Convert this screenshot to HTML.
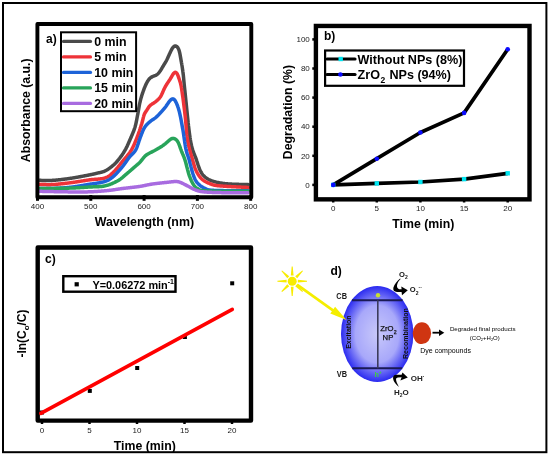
<!DOCTYPE html>
<html><head><meta charset="utf-8"><style>
html,body{margin:0;padding:0;background:#fff;}
body{width:550px;height:457px;overflow:hidden;font-family:"Liberation Sans", sans-serif;}
svg{display:block;will-change:transform;}
</style></head><body>
<svg width="550" height="457" viewBox="0 0 550 457" font-family='"Liberation Sans", sans-serif'><rect x="3" y="3" width="543.4" height="449.2" fill="none" stroke="#000" stroke-width="2"/>
<g fill="none" stroke-width="3.5" stroke-linejoin="round" stroke-linecap="round">
<path d="M39.01,180.31 L39.30,180.32 L39.66,180.33 L40.08,180.34 L40.53,180.36 L41.01,180.37 L41.50,180.39 L42.00,180.41 L42.50,180.42 L43.00,180.44 L43.50,180.45 L44.00,180.47 L44.50,180.48 L45.00,180.49 L45.50,180.50 L46.00,180.50 L46.50,180.51 L47.00,180.51 L47.50,180.51 L48.00,180.51 L48.50,180.51 L49.00,180.50 L49.50,180.49 L50.00,180.48 L50.50,180.46 L51.00,180.44 L51.49,180.42 L51.99,180.39 L52.49,180.36 L52.99,180.33 L53.49,180.29 L53.99,180.26 L54.49,180.22 L54.99,180.18 L55.48,180.14 L55.98,180.09 L56.48,180.05 L56.98,180.00 L57.48,179.95 L57.97,179.91 L58.47,179.86 L58.97,179.80 L59.47,179.75 L59.96,179.70 L60.46,179.64 L60.96,179.59 L61.45,179.53 L61.95,179.47 L62.45,179.41 L62.94,179.35 L63.44,179.29 L63.93,179.23 L64.43,179.17 L64.93,179.10 L65.42,179.04 L65.92,178.97 L66.41,178.90 L66.91,178.84 L67.40,178.77 L67.90,178.70 L68.39,178.63 L68.89,178.56 L69.38,178.49 L69.88,178.41 L70.37,178.34 L70.87,178.26 L71.36,178.19 L71.86,178.11 L72.35,178.03 L72.84,177.95 L73.34,177.87 L73.83,177.79 L74.32,177.71 L74.82,177.62 L75.31,177.54 L75.80,177.45 L76.29,177.37 L76.79,177.28 L77.28,177.19 L77.77,177.10 L78.26,177.02 L78.76,176.93 L79.25,176.84 L79.74,176.75 L80.23,176.66 L80.72,176.57 L81.21,176.48 L81.71,176.38 L82.20,176.29 L82.69,176.20 L83.18,176.11 L83.67,176.01 L84.16,175.92 L84.65,175.83 L85.14,175.73 L85.64,175.64 L86.13,175.55 L86.62,175.45 L87.11,175.36 L87.60,175.26 L88.09,175.17 L88.58,175.07 L89.07,174.98 L89.56,174.88 L90.05,174.79 L90.54,174.69 L91.04,174.59 L91.53,174.50 L92.02,174.39 L92.50,174.29 L92.99,174.19 L93.48,174.08 L93.97,173.96 L94.45,173.85 L94.94,173.73 L95.42,173.61 L95.91,173.49 L96.39,173.37 L96.88,173.25 L97.37,173.13 L97.85,173.02 L98.34,172.91 L98.83,172.81 L99.32,172.70 L99.81,172.60 L100.30,172.49 L100.78,172.38 L101.27,172.26 L101.75,172.14 L102.23,172.00 L102.71,171.86 L103.18,171.70 L103.65,171.53 L104.12,171.34 L104.57,171.15 L105.02,170.94 L105.47,170.71 L105.91,170.48 L106.35,170.24 L106.78,169.99 L107.21,169.73 L107.63,169.46 L108.05,169.19 L108.47,168.92 L108.88,168.63 L109.29,168.35 L109.70,168.06 L110.10,167.77 L110.51,167.47 L110.90,167.17 L111.30,166.86 L111.69,166.55 L112.08,166.24 L112.47,165.92 L112.85,165.60 L113.23,165.28 L113.61,164.95 L113.98,164.62 L114.35,164.28 L114.71,163.93 L115.07,163.58 L115.42,163.23 L115.76,162.87 L116.11,162.50 L116.44,162.13 L116.77,161.76 L117.10,161.38 L117.42,161.00 L117.74,160.62 L118.06,160.23 L118.37,159.84 L118.69,159.45 L119.00,159.06 L119.30,158.66 L119.61,158.27 L119.91,157.87 L120.22,157.47 L120.52,157.07 L120.82,156.67 L121.11,156.27 L121.41,155.87 L121.70,155.46 L121.99,155.05 L122.27,154.64 L122.56,154.23 L122.84,153.82 L123.11,153.40 L123.39,152.98 L123.66,152.56 L123.92,152.14 L124.18,151.71 L124.44,151.28 L124.69,150.85 L124.94,150.42 L125.19,149.98 L125.43,149.55 L125.67,149.11 L125.90,148.66 L126.13,148.22 L126.36,147.77 L126.58,147.33 L126.80,146.88 L127.02,146.43 L127.23,145.97 L127.44,145.52 L127.65,145.06 L127.85,144.61 L128.05,144.15 L128.26,143.69 L128.46,143.24 L128.66,142.78 L128.86,142.32 L129.06,141.86 L129.25,141.40 L129.45,140.94 L129.65,140.48 L129.85,140.03 L130.05,139.57 L130.25,139.11 L130.45,138.65 L130.65,138.19 L130.85,137.73 L131.05,137.28 L131.25,136.82 L131.45,136.36 L131.65,135.90 L131.84,135.44 L132.04,134.98 L132.23,134.52 L132.43,134.06 L132.62,133.60 L132.81,133.13 L133.00,132.67 L133.18,132.21 L133.37,131.74 L133.55,131.28 L133.73,130.81 L133.90,130.34 L134.08,129.87 L134.25,129.40 L134.41,128.93 L134.57,128.46 L134.73,127.98 L134.88,127.51 L135.02,127.03 L135.17,126.55 L135.30,126.07 L135.43,125.59 L135.56,125.10 L135.68,124.62 L135.80,124.13 L135.91,123.64 L136.02,123.16 L136.13,122.67 L136.23,122.18 L136.33,121.69 L136.43,121.20 L136.53,120.71 L136.62,120.22 L136.71,119.73 L136.80,119.23 L136.89,118.74 L136.98,118.25 L137.08,117.76 L137.17,117.27 L137.26,116.78 L137.35,116.29 L137.45,115.79 L137.54,115.30 L137.64,114.81 L137.73,114.32 L137.82,113.83 L137.91,113.34 L138.01,112.85 L138.09,112.35 L138.18,111.86 L138.27,111.37 L138.36,110.88 L138.44,110.39 L138.53,109.89 L138.61,109.40 L138.70,108.91 L138.78,108.41 L138.87,107.92 L138.96,107.43 L139.04,106.94 L139.13,106.45 L139.22,105.95 L139.31,105.46 L139.41,104.97 L139.50,104.48 L139.60,103.99 L139.70,103.50 L139.80,103.01 L139.91,102.52 L140.02,102.03 L140.13,101.55 L140.25,101.06 L140.37,100.58 L140.49,100.09 L140.62,99.61 L140.75,99.12 L140.88,98.64 L141.01,98.16 L141.15,97.68 L141.29,97.20 L141.43,96.72 L141.58,96.24 L141.72,95.76 L141.87,95.29 L142.02,94.81 L142.18,94.33 L142.33,93.86 L142.49,93.39 L142.65,92.91 L142.81,92.44 L142.97,91.97 L143.14,91.49 L143.30,91.02 L143.47,90.55 L143.64,90.08 L143.81,89.61 L143.99,89.14 L144.17,88.67 L144.35,88.21 L144.53,87.74 L144.71,87.28 L144.90,86.82 L145.10,86.35 L145.29,85.90 L145.49,85.44 L145.70,84.98 L145.91,84.53 L146.12,84.08 L146.34,83.63 L146.56,83.18 L146.79,82.73 L147.02,82.29 L147.27,81.86 L147.52,81.42 L147.77,81.00 L148.04,80.58 L148.32,80.16 L148.61,79.76 L148.92,79.37 L149.24,78.99 L149.58,78.62 L149.93,78.28 L150.30,77.95 L150.69,77.65 L151.10,77.37 L151.53,77.12 L151.96,76.88 L152.41,76.66 L152.86,76.46 L153.32,76.26 L153.78,76.07 L154.25,75.89 L154.71,75.71 L155.17,75.52 L155.63,75.32 L156.07,75.11 L156.50,74.87 L156.91,74.60 L157.30,74.30 L157.67,73.98 L158.03,73.63 L158.37,73.27 L158.70,72.90 L159.02,72.52 L159.33,72.13 L159.64,71.73 L159.93,71.33 L160.22,70.92 L160.50,70.51 L160.77,70.09 L161.04,69.67 L161.30,69.24 L161.56,68.81 L161.81,68.38 L162.06,67.95 L162.31,67.51 L162.56,67.08 L162.81,66.65 L163.07,66.22 L163.32,65.79 L163.58,65.36 L163.84,64.94 L164.10,64.51 L164.37,64.08 L164.63,63.66 L164.89,63.23 L165.15,62.81 L165.41,62.38 L165.67,61.95 L165.92,61.52 L166.16,61.08 L166.40,60.64 L166.63,60.20 L166.85,59.75 L167.08,59.30 L167.29,58.85 L167.50,58.40 L167.71,57.95 L167.92,57.49 L168.12,57.04 L168.33,56.58 L168.53,56.12 L168.74,55.67 L168.95,55.21 L169.15,54.76 L169.36,54.30 L169.57,53.85 L169.78,53.39 L169.99,52.94 L170.20,52.49 L170.41,52.03 L170.62,51.58 L170.83,51.13 L171.05,50.68 L171.27,50.23 L171.50,49.78 L171.74,49.35 L171.99,48.91 L172.25,48.49 L172.53,48.08 L172.82,47.68 L173.13,47.30 L173.46,46.94 L173.81,46.62 L174.19,46.35 L174.59,46.14 L175.00,46.02 L175.42,45.99 L175.85,46.05 L176.26,46.20 L176.65,46.42 L177.01,46.72 L177.34,47.06 L177.64,47.43 L177.92,47.84 L178.16,48.26 L178.39,48.71 L178.59,49.16 L178.78,49.62 L178.95,50.09 L179.10,50.56 L179.24,51.04 L179.37,51.52 L179.49,52.01 L179.61,52.49 L179.72,52.98 L179.82,53.47 L179.92,53.96 L180.02,54.45 L180.11,54.94 L180.20,55.43 L180.29,55.92 L180.38,56.42 L180.47,56.91 L180.56,57.40 L180.64,57.89 L180.73,58.39 L180.81,58.88 L180.90,59.37 L180.99,59.86 L181.08,60.36 L181.16,60.85 L181.25,61.34 L181.34,61.83 L181.42,62.33 L181.51,62.82 L181.60,63.31 L181.68,63.80 L181.76,64.30 L181.85,64.79 L181.93,65.28 L182.01,65.78 L182.09,66.27 L182.17,66.76 L182.25,67.26 L182.32,67.75 L182.40,68.25 L182.47,68.74 L182.54,69.23 L182.62,69.73 L182.69,70.22 L182.76,70.72 L182.82,71.22 L182.89,71.71 L182.96,72.21 L183.02,72.70 L183.08,73.20 L183.14,73.69 L183.20,74.19 L183.26,74.69 L183.32,75.18 L183.37,75.68 L183.42,76.18 L183.47,76.68 L183.52,77.17 L183.57,77.67 L183.62,78.17 L183.66,78.67 L183.71,79.16 L183.76,79.66 L183.80,80.16 L183.85,80.66 L183.89,81.16 L183.94,81.65 L183.99,82.15 L184.04,82.65 L184.09,83.15 L184.13,83.64 L184.18,84.14 L184.23,84.64 L184.29,85.14 L184.34,85.63 L184.39,86.13 L184.44,86.63 L184.49,87.13 L184.54,87.62 L184.60,88.12 L184.65,88.62 L184.70,89.12 L184.76,89.61 L184.81,90.11 L184.86,90.61 L184.92,91.10 L184.97,91.60 L185.02,92.10 L185.07,92.60 L185.13,93.09 L185.18,93.59 L185.23,94.09 L185.28,94.58 L185.33,95.08 L185.38,95.58 L185.43,96.08 L185.48,96.57 L185.53,97.07 L185.58,97.57 L185.63,98.07 L185.68,98.56 L185.73,99.06 L185.78,99.56 L185.83,100.06 L185.88,100.55 L185.93,101.05 L185.98,101.55 L186.03,102.05 L186.08,102.54 L186.13,103.04 L186.18,103.54 L186.23,104.04 L186.28,104.53 L186.33,105.03 L186.38,105.53 L186.43,106.03 L186.48,106.52 L186.53,107.02 L186.58,107.52 L186.63,108.02 L186.68,108.51 L186.73,109.01 L186.78,109.51 L186.83,110.01 L186.88,110.50 L186.94,111.00 L186.99,111.50 L187.04,112.00 L187.09,112.49 L187.14,112.99 L187.19,113.49 L187.24,113.99 L187.29,114.48 L187.35,114.98 L187.40,115.48 L187.45,115.98 L187.50,116.47 L187.55,116.97 L187.61,117.47 L187.66,117.96 L187.71,118.46 L187.77,118.96 L187.82,119.46 L187.87,119.95 L187.93,120.45 L187.98,120.95 L188.03,121.44 L188.09,121.94 L188.14,122.44 L188.20,122.93 L188.25,123.43 L188.31,123.93 L188.37,124.43 L188.42,124.92 L188.48,125.42 L188.53,125.92 L188.59,126.41 L188.65,126.91 L188.71,127.41 L188.77,127.90 L188.82,128.40 L188.88,128.90 L188.94,129.39 L189.00,129.89 L189.06,130.38 L189.13,130.88 L189.19,131.38 L189.25,131.87 L189.31,132.37 L189.38,132.87 L189.44,133.36 L189.51,133.86 L189.57,134.35 L189.64,134.85 L189.71,135.34 L189.78,135.84 L189.85,136.33 L189.92,136.83 L189.99,137.32 L190.06,137.82 L190.14,138.31 L190.22,138.81 L190.29,139.30 L190.38,139.79 L190.46,140.29 L190.54,140.78 L190.63,141.27 L190.72,141.76 L190.81,142.25 L190.91,142.74 L191.01,143.24 L191.11,143.72 L191.21,144.21 L191.32,144.70 L191.43,145.19 L191.54,145.68 L191.66,146.16 L191.78,146.65 L191.90,147.13 L192.03,147.62 L192.16,148.10 L192.30,148.58 L192.44,149.06 L192.59,149.54 L192.73,150.01 L192.89,150.49 L193.05,150.96 L193.21,151.44 L193.37,151.91 L193.54,152.38 L193.72,152.85 L193.90,153.31 L194.08,153.78 L194.26,154.24 L194.45,154.71 L194.63,155.17 L194.82,155.64 L195.01,156.10 L195.20,156.56 L195.38,157.03 L195.57,157.49 L195.75,157.96 L195.92,158.42 L196.10,158.89 L196.27,159.36 L196.43,159.84 L196.59,160.31 L196.75,160.78 L196.90,161.26 L197.06,161.73 L197.21,162.21 L197.37,162.69 L197.52,163.16 L197.67,163.64 L197.83,164.11 L197.98,164.59 L198.14,165.06 L198.30,165.54 L198.46,166.01 L198.62,166.48 L198.79,166.96 L198.96,167.43 L199.13,167.89 L199.31,168.36 L199.50,168.83 L199.69,169.29 L199.89,169.74 L200.09,170.20 L200.31,170.65 L200.53,171.10 L200.76,171.54 L201.00,171.98 L201.25,172.41 L201.50,172.84 L201.77,173.26 L202.05,173.68 L202.33,174.08 L202.63,174.48 L202.94,174.87 L203.27,175.25 L203.60,175.62 L203.95,175.98 L204.30,176.33 L204.67,176.67 L205.05,177.00 L205.43,177.31 L205.82,177.62 L206.23,177.92 L206.63,178.20 L207.05,178.48 L207.47,178.75 L207.90,179.00 L208.33,179.25 L208.77,179.49 L209.22,179.71 L209.66,179.93 L210.12,180.14 L210.58,180.34 L211.04,180.53 L211.50,180.71 L211.97,180.88 L212.44,181.05 L212.92,181.20 L213.40,181.35 L213.87,181.50 L214.35,181.64 L214.83,181.77 L215.32,181.90 L215.80,182.03 L216.29,182.14 L216.77,182.26 L217.26,182.37 L217.75,182.48 L218.24,182.58 L218.73,182.67 L219.22,182.77 L219.71,182.86 L220.21,182.94 L220.70,183.02 L221.19,183.10 L221.69,183.18 L222.18,183.25 L222.68,183.32 L223.17,183.38 L223.67,183.45 L224.16,183.51 L224.66,183.57 L225.16,183.62 L225.65,183.67 L226.15,183.72 L226.65,183.77 L227.15,183.82 L227.65,183.86 L228.14,183.90 L228.64,183.94 L229.14,183.98 L229.64,184.01 L230.14,184.04 L230.64,184.07 L231.14,184.10 L231.64,184.12 L232.14,184.15 L232.64,184.17 L233.14,184.19 L233.63,184.21 L234.13,184.23 L234.63,184.25 L235.13,184.26 L235.63,184.28 L236.13,184.30 L236.63,184.31 L237.13,184.33 L237.63,184.34 L238.13,184.35 L238.63,184.37 L239.13,184.38 L239.63,184.39 L240.13,184.40 L240.63,184.42 L241.13,184.43 L241.63,184.44 L242.13,184.45 L242.63,184.46 L243.13,184.47 L243.63,184.48 L244.13,184.49 L244.63,184.50 L245.13,184.51 L245.63,184.52 L246.12,184.53 L246.60,184.54 L247.05,184.55 L247.47,184.56 L247.83,184.57 L248.12,184.58" stroke="#4a4a4a"/>
<path d="M39.01,184.32 L39.30,184.33 L39.66,184.35 L40.08,184.37 L40.53,184.39 L41.01,184.41 L41.50,184.44 L42.00,184.46 L42.50,184.49 L43.00,184.51 L43.49,184.53 L43.99,184.55 L44.49,184.57 L44.99,184.59 L45.49,184.61 L45.99,184.62 L46.49,184.63 L46.99,184.64 L47.49,184.65 L47.99,184.66 L48.49,184.66 L48.99,184.66 L49.49,184.66 L49.99,184.65 L50.49,184.64 L50.99,184.63 L51.49,184.61 L51.99,184.59 L52.49,184.57 L52.99,184.54 L53.49,184.51 L53.99,184.48 L54.49,184.44 L54.98,184.41 L55.48,184.37 L55.98,184.33 L56.48,184.29 L56.98,184.25 L57.48,184.21 L57.97,184.16 L58.47,184.11 L58.97,184.07 L59.47,184.02 L59.97,183.97 L60.46,183.92 L60.96,183.86 L61.46,183.81 L61.95,183.76 L62.45,183.70 L62.95,183.65 L63.44,183.59 L63.94,183.53 L64.44,183.48 L64.93,183.42 L65.43,183.36 L65.93,183.30 L66.42,183.24 L66.92,183.18 L67.42,183.12 L67.91,183.06 L68.41,183.00 L68.91,182.94 L69.40,182.87 L69.90,182.81 L70.39,182.75 L70.89,182.68 L71.38,182.61 L71.88,182.55 L72.38,182.48 L72.87,182.41 L73.37,182.34 L73.86,182.27 L74.36,182.20 L74.85,182.12 L75.34,182.05 L75.84,181.97 L76.33,181.90 L76.83,181.82 L77.32,181.75 L77.82,181.67 L78.31,181.59 L78.80,181.52 L79.30,181.44 L79.79,181.36 L80.29,181.28 L80.78,181.21 L81.27,181.13 L81.77,181.05 L82.26,180.97 L82.75,180.89 L83.25,180.82 L83.74,180.74 L84.24,180.66 L84.73,180.58 L85.22,180.51 L85.72,180.43 L86.21,180.36 L86.71,180.28 L87.20,180.21 L87.70,180.13 L88.19,180.06 L88.69,179.99 L89.18,179.92 L89.68,179.85 L90.17,179.79 L90.67,179.73 L91.17,179.67 L91.66,179.61 L92.16,179.56 L92.66,179.51 L93.15,179.46 L93.65,179.42 L94.15,179.38 L94.65,179.34 L95.15,179.31 L95.65,179.27 L96.15,179.24 L96.64,179.20 L97.14,179.16 L97.64,179.13 L98.14,179.09 L98.64,179.05 L99.14,179.01 L99.63,178.96 L100.13,178.91 L100.63,178.85 L101.12,178.79 L101.62,178.72 L102.11,178.64 L102.60,178.56 L103.09,178.46 L103.58,178.35 L104.06,178.22 L104.54,178.09 L105.02,177.94 L105.49,177.77 L105.95,177.60 L106.41,177.40 L106.87,177.20 L107.31,176.98 L107.75,176.74 L108.18,176.49 L108.61,176.23 L109.02,175.95 L109.43,175.67 L109.83,175.37 L110.22,175.06 L110.61,174.74 L110.99,174.42 L111.36,174.09 L111.73,173.75 L112.10,173.41 L112.46,173.07 L112.83,172.73 L113.19,172.38 L113.55,172.03 L113.90,171.68 L114.25,171.33 L114.60,170.97 L114.95,170.61 L115.29,170.24 L115.63,169.87 L115.96,169.50 L116.29,169.12 L116.62,168.75 L116.94,168.36 L117.26,167.98 L117.58,167.60 L117.89,167.21 L118.21,166.82 L118.52,166.43 L118.83,166.04 L119.14,165.65 L119.45,165.26 L119.76,164.86 L120.07,164.47 L120.38,164.08 L120.69,163.68 L121.00,163.29 L121.31,162.90 L121.62,162.51 L121.93,162.12 L122.25,161.73 L122.56,161.34 L122.88,160.95 L123.19,160.56 L123.51,160.18 L123.83,159.80 L124.16,159.41 L124.48,159.03 L124.80,158.65 L125.13,158.27 L125.45,157.89 L125.77,157.51 L126.09,157.12 L126.42,156.74 L126.74,156.36 L127.05,155.97 L127.37,155.58 L127.69,155.20 L128.00,154.80 L128.31,154.41 L128.61,154.02 L128.92,153.62 L129.21,153.22 L129.51,152.82 L129.80,152.41 L130.09,152.00 L130.37,151.58 L130.64,151.17 L130.91,150.75 L131.18,150.32 L131.43,149.89 L131.69,149.46 L131.93,149.03 L132.17,148.59 L132.41,148.15 L132.64,147.71 L132.87,147.26 L133.09,146.81 L133.31,146.36 L133.52,145.91 L133.73,145.46 L133.94,145.00 L134.14,144.55 L134.34,144.09 L134.54,143.63 L134.74,143.17 L134.93,142.71 L135.12,142.25 L135.31,141.78 L135.50,141.32 L135.68,140.86 L135.87,140.39 L136.05,139.93 L136.23,139.46 L136.42,139.00 L136.60,138.53 L136.78,138.06 L136.96,137.60 L137.14,137.13 L137.32,136.66 L137.50,136.20 L137.68,135.73 L137.85,135.26 L138.03,134.79 L138.20,134.33 L138.37,133.86 L138.54,133.39 L138.71,132.92 L138.88,132.44 L139.04,131.97 L139.20,131.50 L139.37,131.03 L139.53,130.55 L139.68,130.08 L139.84,129.60 L140.00,129.13 L140.15,128.65 L140.31,128.18 L140.46,127.70 L140.61,127.22 L140.76,126.75 L140.91,126.27 L141.06,125.79 L141.21,125.32 L141.36,124.84 L141.51,124.36 L141.65,123.88 L141.80,123.41 L141.94,122.93 L142.08,122.45 L142.22,121.96 L142.35,121.48 L142.48,121.00 L142.60,120.52 L142.72,120.03 L142.84,119.55 L142.96,119.06 L143.08,118.57 L143.19,118.09 L143.31,117.60 L143.44,117.12 L143.56,116.63 L143.70,116.15 L143.85,115.68 L144.00,115.20 L144.17,114.74 L144.36,114.27 L144.56,113.82 L144.78,113.37 L145.02,112.93 L145.27,112.50 L145.53,112.08 L145.80,111.66 L146.08,111.25 L146.36,110.84 L146.64,110.42 L146.92,110.01 L147.19,109.59 L147.46,109.16 L147.72,108.74 L147.98,108.31 L148.24,107.89 L148.51,107.47 L148.79,107.06 L149.09,106.66 L149.40,106.28 L149.74,105.91 L150.09,105.57 L150.46,105.24 L150.85,104.93 L151.25,104.64 L151.66,104.36 L152.08,104.09 L152.51,103.82 L152.93,103.55 L153.35,103.29 L153.77,103.01 L154.18,102.73 L154.59,102.44 L154.99,102.15 L155.39,101.84 L155.78,101.54 L156.17,101.22 L156.56,100.91 L156.94,100.58 L157.32,100.26 L157.69,99.93 L158.05,99.58 L158.41,99.24 L158.76,98.88 L159.09,98.51 L159.41,98.13 L159.73,97.74 L160.02,97.34 L160.31,96.93 L160.58,96.51 L160.84,96.09 L161.09,95.65 L161.32,95.21 L161.55,94.77 L161.77,94.32 L161.98,93.87 L162.19,93.41 L162.39,92.96 L162.59,92.50 L162.79,92.04 L162.99,91.58 L163.19,91.12 L163.39,90.66 L163.59,90.21 L163.79,89.75 L164.00,89.29 L164.21,88.84 L164.42,88.39 L164.64,87.94 L164.87,87.50 L165.11,87.06 L165.35,86.62 L165.59,86.18 L165.84,85.75 L166.10,85.32 L166.36,84.90 L166.62,84.47 L166.89,84.05 L167.16,83.63 L167.43,83.21 L167.71,82.79 L167.99,82.38 L168.27,81.96 L168.54,81.55 L168.82,81.13 L169.10,80.72 L169.38,80.30 L169.65,79.88 L169.93,79.46 L170.19,79.04 L170.45,78.61 L170.71,78.18 L170.96,77.75 L171.21,77.32 L171.46,76.88 L171.70,76.45 L171.95,76.02 L172.20,75.58 L172.46,75.15 L172.72,74.73 L172.99,74.31 L173.27,73.90 L173.56,73.51 L173.87,73.15 L174.21,72.83 L174.56,72.58 L174.93,72.41 L175.31,72.34 L175.69,72.39 L176.05,72.55 L176.38,72.80 L176.68,73.12 L176.96,73.50 L177.20,73.92 L177.43,74.36 L177.63,74.81 L177.83,75.27 L178.01,75.73 L178.19,76.20 L178.36,76.67 L178.52,77.14 L178.69,77.61 L178.85,78.08 L179.01,78.56 L179.17,79.03 L179.33,79.50 L179.49,79.98 L179.65,80.45 L179.81,80.92 L179.96,81.40 L180.11,81.88 L180.25,82.36 L180.39,82.84 L180.52,83.32 L180.64,83.81 L180.75,84.29 L180.86,84.78 L180.96,85.27 L181.06,85.76 L181.16,86.25 L181.25,86.74 L181.34,87.23 L181.42,87.73 L181.51,88.22 L181.59,88.71 L181.67,89.21 L181.75,89.70 L181.83,90.19 L181.90,90.69 L181.98,91.18 L182.05,91.68 L182.13,92.17 L182.20,92.66 L182.27,93.16 L182.34,93.65 L182.41,94.15 L182.48,94.64 L182.55,95.14 L182.62,95.64 L182.69,96.13 L182.76,96.63 L182.82,97.12 L182.89,97.62 L182.96,98.11 L183.02,98.61 L183.09,99.10 L183.15,99.60 L183.22,100.10 L183.28,100.59 L183.35,101.09 L183.41,101.58 L183.48,102.08 L183.54,102.57 L183.60,103.07 L183.66,103.57 L183.73,104.06 L183.79,104.56 L183.85,105.05 L183.91,105.55 L183.98,106.05 L184.04,106.54 L184.10,107.04 L184.16,107.54 L184.22,108.03 L184.28,108.53 L184.34,109.02 L184.40,109.52 L184.46,110.02 L184.52,110.51 L184.58,111.01 L184.64,111.51 L184.70,112.00 L184.76,112.50 L184.82,113.00 L184.87,113.49 L184.93,113.99 L184.99,114.49 L185.05,114.98 L185.10,115.48 L185.16,115.98 L185.22,116.47 L185.27,116.97 L185.32,117.47 L185.37,117.97 L185.42,118.46 L185.47,118.96 L185.52,119.46 L185.57,119.96 L185.61,120.45 L185.65,120.95 L185.70,121.45 L185.74,121.95 L185.78,122.45 L185.82,122.95 L185.86,123.44 L185.90,123.94 L185.94,124.44 L185.97,124.94 L186.01,125.44 L186.05,125.94 L186.09,126.44 L186.12,126.93 L186.16,127.43 L186.20,127.93 L186.24,128.43 L186.28,128.93 L186.31,129.43 L186.35,129.92 L186.39,130.42 L186.44,130.92 L186.48,131.42 L186.52,131.92 L186.57,132.42 L186.61,132.91 L186.66,133.41 L186.71,133.91 L186.76,134.41 L186.82,134.90 L186.87,135.40 L186.93,135.90 L186.99,136.39 L187.05,136.89 L187.12,137.38 L187.19,137.88 L187.26,138.37 L187.33,138.87 L187.41,139.36 L187.49,139.86 L187.57,140.35 L187.66,140.84 L187.75,141.33 L187.84,141.82 L187.94,142.32 L188.04,142.81 L188.14,143.29 L188.24,143.78 L188.35,144.27 L188.46,144.76 L188.57,145.25 L188.68,145.74 L188.79,146.22 L188.91,146.71 L189.03,147.19 L189.15,147.68 L189.27,148.16 L189.40,148.65 L189.52,149.13 L189.65,149.62 L189.78,150.10 L189.91,150.58 L190.04,151.06 L190.17,151.55 L190.30,152.03 L190.44,152.51 L190.57,152.99 L190.71,153.47 L190.85,153.95 L190.98,154.43 L191.12,154.91 L191.26,155.39 L191.40,155.87 L191.54,156.35 L191.68,156.84 L191.82,157.32 L191.96,157.80 L192.10,158.28 L192.24,158.76 L192.38,159.24 L192.52,159.72 L192.65,160.20 L192.79,160.68 L192.93,161.16 L193.07,161.64 L193.21,162.12 L193.34,162.60 L193.48,163.08 L193.62,163.56 L193.76,164.04 L193.91,164.52 L194.05,165.00 L194.20,165.48 L194.35,165.95 L194.50,166.43 L194.66,166.90 L194.82,167.38 L194.99,167.85 L195.16,168.32 L195.34,168.78 L195.52,169.25 L195.71,169.71 L195.91,170.17 L196.11,170.62 L196.32,171.08 L196.54,171.53 L196.76,171.97 L196.99,172.42 L197.23,172.86 L197.47,173.30 L197.72,173.73 L197.97,174.16 L198.24,174.58 L198.51,175.00 L198.78,175.42 L199.07,175.83 L199.36,176.23 L199.67,176.63 L199.98,177.02 L200.30,177.40 L200.63,177.78 L200.96,178.14 L201.31,178.50 L201.67,178.85 L202.04,179.19 L202.41,179.52 L202.80,179.83 L203.19,180.14 L203.59,180.44 L204.00,180.72 L204.42,180.99 L204.84,181.26 L205.27,181.51 L205.70,181.76 L206.14,182.00 L206.59,182.23 L207.04,182.45 L207.49,182.66 L207.94,182.87 L208.40,183.07 L208.86,183.27 L209.32,183.46 L209.79,183.64 L210.25,183.82 L210.72,184.00 L211.19,184.17 L211.66,184.34 L212.13,184.51 L212.60,184.67 L213.08,184.81 L213.56,184.95 L214.04,185.08 L214.53,185.19 L215.02,185.28 L215.51,185.37 L216.00,185.45 L216.50,185.52 L216.99,185.58 L217.49,185.64 L217.99,185.70 L218.48,185.75 L218.98,185.80 L219.48,185.85 L219.98,185.89 L220.47,185.93 L220.97,185.98 L221.47,186.02 L221.97,186.05 L222.47,186.09 L222.97,186.13 L223.46,186.16 L223.96,186.19 L224.46,186.23 L224.96,186.26 L225.46,186.29 L225.96,186.32 L226.46,186.35 L226.96,186.38 L227.46,186.41 L227.96,186.44 L228.46,186.47 L228.95,186.50 L229.45,186.52 L229.95,186.55 L230.45,186.58 L230.95,186.60 L231.45,186.63 L231.95,186.66 L232.45,186.68 L232.95,186.71 L233.45,186.74 L233.95,186.76 L234.45,186.79 L234.95,186.81 L235.45,186.84 L235.94,186.86 L236.44,186.89 L236.94,186.91 L237.44,186.94 L237.94,186.96 L238.44,186.98 L238.94,187.01 L239.44,187.03 L239.94,187.06 L240.44,187.08 L240.94,187.11 L241.44,187.13 L241.94,187.15 L242.44,187.18 L242.94,187.20 L243.44,187.22 L243.94,187.25 L244.43,187.27 L244.93,187.30 L245.43,187.32 L245.93,187.35 L246.42,187.37 L246.90,187.39 L247.35,187.42 L247.77,187.44 L248.13,187.46 L248.42,187.47" stroke="#ee3338"/>
<path d="M39.01,188.60 L39.30,188.60 L39.66,188.60 L40.08,188.60 L40.53,188.61 L41.01,188.61 L41.50,188.61 L42.00,188.61 L42.50,188.62 L43.00,188.62 L43.50,188.62 L44.00,188.62 L44.50,188.62 L45.00,188.62 L45.50,188.62 L46.00,188.62 L46.50,188.62 L47.00,188.61 L47.50,188.61 L48.00,188.60 L48.50,188.59 L49.00,188.58 L49.50,188.57 L50.00,188.56 L50.50,188.55 L51.00,188.53 L51.50,188.51 L52.00,188.50 L52.50,188.48 L53.00,188.46 L53.50,188.44 L54.00,188.42 L54.50,188.39 L55.00,188.37 L55.50,188.35 L55.99,188.33 L56.49,188.30 L56.99,188.28 L57.49,188.25 L57.99,188.23 L58.49,188.20 L58.99,188.18 L59.49,188.15 L59.99,188.12 L60.49,188.09 L60.99,188.06 L61.49,188.03 L61.99,188.00 L62.48,187.96 L62.98,187.93 L63.48,187.89 L63.98,187.85 L64.48,187.82 L64.98,187.78 L65.48,187.74 L65.97,187.69 L66.47,187.65 L66.97,187.60 L67.47,187.56 L67.97,187.51 L68.46,187.46 L68.96,187.41 L69.46,187.35 L69.95,187.30 L70.45,187.24 L70.95,187.18 L71.44,187.12 L71.94,187.06 L72.44,187.00 L72.93,186.93 L73.43,186.86 L73.92,186.79 L74.42,186.73 L74.91,186.65 L75.41,186.58 L75.90,186.51 L76.40,186.44 L76.89,186.36 L77.38,186.29 L77.88,186.21 L78.37,186.13 L78.87,186.05 L79.36,185.97 L79.85,185.90 L80.35,185.82 L80.84,185.74 L81.33,185.65 L81.83,185.57 L82.32,185.49 L82.81,185.41 L83.31,185.33 L83.80,185.24 L84.29,185.16 L84.79,185.08 L85.28,185.00 L85.77,184.91 L86.27,184.83 L86.76,184.75 L87.25,184.66 L87.74,184.58 L88.24,184.50 L88.73,184.41 L89.22,184.33 L89.72,184.25 L90.21,184.17 L90.70,184.09 L91.20,184.01 L91.69,183.94 L92.19,183.86 L92.68,183.79 L93.18,183.71 L93.67,183.64 L94.17,183.57 L94.66,183.50 L95.16,183.43 L95.65,183.36 L96.15,183.29 L96.64,183.22 L97.14,183.14 L97.63,183.07 L98.12,182.99 L98.62,182.91 L99.11,182.83 L99.60,182.75 L100.10,182.66 L100.59,182.57 L101.08,182.48 L101.57,182.38 L102.06,182.27 L102.54,182.16 L103.03,182.04 L103.51,181.91 L103.99,181.78 L104.47,181.63 L104.95,181.48 L105.42,181.32 L105.89,181.15 L106.35,180.97 L106.81,180.77 L107.27,180.57 L107.72,180.36 L108.17,180.14 L108.61,179.90 L109.04,179.66 L109.47,179.40 L109.89,179.13 L110.30,178.85 L110.71,178.57 L111.12,178.27 L111.52,177.97 L111.91,177.67 L112.30,177.35 L112.69,177.04 L113.07,176.72 L113.45,176.39 L113.83,176.06 L114.20,175.73 L114.57,175.39 L114.94,175.05 L115.30,174.71 L115.65,174.36 L116.01,174.00 L116.36,173.65 L116.70,173.29 L117.05,172.92 L117.39,172.56 L117.72,172.19 L118.06,171.82 L118.39,171.45 L118.72,171.07 L119.05,170.69 L119.38,170.32 L119.71,169.94 L120.03,169.56 L120.35,169.18 L120.68,168.79 L121.00,168.41 L121.32,168.03 L121.64,167.64 L121.95,167.25 L122.27,166.87 L122.58,166.48 L122.90,166.09 L123.20,165.69 L123.51,165.30 L123.81,164.90 L124.11,164.50 L124.41,164.10 L124.70,163.70 L125.00,163.29 L125.29,162.88 L125.57,162.47 L125.86,162.06 L126.15,161.65 L126.43,161.24 L126.72,160.83 L127.01,160.42 L127.29,160.02 L127.58,159.61 L127.87,159.20 L128.17,158.80 L128.46,158.39 L128.76,157.99 L129.07,157.60 L129.38,157.21 L129.69,156.82 L130.02,156.44 L130.35,156.07 L130.69,155.70 L131.03,155.34 L131.38,154.98 L131.74,154.63 L132.10,154.28 L132.45,153.93 L132.81,153.58 L133.16,153.22 L133.50,152.86 L133.84,152.49 L134.16,152.11 L134.47,151.73 L134.77,151.33 L135.06,150.92 L135.33,150.50 L135.59,150.08 L135.83,149.64 L136.06,149.20 L136.28,148.75 L136.49,148.30 L136.69,147.84 L136.87,147.38 L137.06,146.91 L137.23,146.44 L137.40,145.97 L137.57,145.50 L137.73,145.03 L137.89,144.56 L138.05,144.08 L138.21,143.61 L138.36,143.13 L138.51,142.66 L138.67,142.18 L138.82,141.70 L138.98,141.23 L139.14,140.75 L139.29,140.28 L139.46,139.81 L139.62,139.34 L139.79,138.86 L139.96,138.40 L140.14,137.93 L140.31,137.46 L140.49,136.99 L140.66,136.52 L140.84,136.05 L141.01,135.59 L141.19,135.12 L141.37,134.65 L141.54,134.18 L141.72,133.72 L141.90,133.25 L142.08,132.78 L142.26,132.32 L142.45,131.85 L142.64,131.39 L142.83,130.93 L143.03,130.47 L143.24,130.02 L143.45,129.56 L143.67,129.11 L143.89,128.67 L144.13,128.23 L144.38,127.80 L144.64,127.37 L144.91,126.95 L145.19,126.54 L145.48,126.14 L145.79,125.74 L146.10,125.36 L146.43,124.98 L146.76,124.61 L147.11,124.25 L147.46,123.90 L147.82,123.55 L148.19,123.21 L148.56,122.88 L148.93,122.54 L149.31,122.22 L149.69,121.89 L150.08,121.57 L150.47,121.26 L150.86,120.96 L151.26,120.66 L151.67,120.37 L152.08,120.09 L152.50,119.81 L152.91,119.53 L153.33,119.26 L153.74,118.98 L154.16,118.70 L154.56,118.41 L154.97,118.11 L155.36,117.81 L155.75,117.49 L156.13,117.17 L156.50,116.84 L156.87,116.50 L157.24,116.16 L157.59,115.81 L157.95,115.46 L158.30,115.10 L158.65,114.75 L158.99,114.38 L159.34,114.02 L159.68,113.66 L160.02,113.29 L160.36,112.92 L160.70,112.55 L161.03,112.18 L161.37,111.81 L161.70,111.44 L162.03,111.06 L162.36,110.69 L162.69,110.31 L163.02,109.93 L163.34,109.55 L163.67,109.17 L163.99,108.79 L164.31,108.41 L164.63,108.02 L164.94,107.64 L165.25,107.24 L165.56,106.85 L165.86,106.45 L166.15,106.04 L166.44,105.64 L166.72,105.22 L167.00,104.81 L167.28,104.39 L167.55,103.97 L167.83,103.56 L168.10,103.14 L168.38,102.73 L168.67,102.32 L168.96,101.92 L169.27,101.52 L169.59,101.14 L169.91,100.76 L170.25,100.40 L170.60,100.05 L170.96,99.72 L171.34,99.42 L171.73,99.17 L172.13,98.98 L172.54,98.88 L172.95,98.87 L173.35,98.96 L173.74,99.15 L174.10,99.41 L174.43,99.74 L174.74,100.10 L175.02,100.50 L175.28,100.92 L175.53,101.35 L175.77,101.79 L176.00,102.23 L176.21,102.68 L176.42,103.14 L176.63,103.59 L176.82,104.05 L177.01,104.51 L177.20,104.98 L177.38,105.45 L177.55,105.91 L177.72,106.38 L177.88,106.86 L178.05,107.33 L178.20,107.80 L178.36,108.28 L178.50,108.76 L178.65,109.24 L178.79,109.72 L178.92,110.20 L179.06,110.68 L179.18,111.16 L179.31,111.65 L179.43,112.13 L179.55,112.62 L179.66,113.10 L179.78,113.59 L179.89,114.08 L180.00,114.57 L180.10,115.05 L180.21,115.54 L180.31,116.03 L180.41,116.52 L180.51,117.01 L180.61,117.50 L180.71,117.99 L180.80,118.48 L180.90,118.97 L180.99,119.46 L181.09,119.96 L181.18,120.45 L181.27,120.94 L181.36,121.43 L181.45,121.92 L181.54,122.41 L181.63,122.91 L181.72,123.40 L181.81,123.89 L181.90,124.38 L181.99,124.87 L182.08,125.37 L182.17,125.86 L182.25,126.35 L182.34,126.84 L182.43,127.33 L182.52,127.83 L182.61,128.32 L182.69,128.81 L182.78,129.30 L182.87,129.80 L182.95,130.29 L183.04,130.78 L183.12,131.27 L183.20,131.77 L183.28,132.26 L183.36,132.76 L183.44,133.25 L183.51,133.74 L183.59,134.24 L183.66,134.73 L183.74,135.23 L183.81,135.72 L183.88,136.22 L183.96,136.71 L184.03,137.21 L184.10,137.70 L184.17,138.19 L184.24,138.69 L184.31,139.18 L184.39,139.68 L184.46,140.17 L184.53,140.67 L184.60,141.16 L184.67,141.66 L184.75,142.15 L184.82,142.65 L184.89,143.14 L184.97,143.64 L185.05,144.13 L185.12,144.62 L185.20,145.12 L185.29,145.61 L185.37,146.10 L185.45,146.60 L185.54,147.09 L185.63,147.58 L185.73,148.07 L185.82,148.56 L185.93,149.05 L186.03,149.54 L186.14,150.03 L186.26,150.51 L186.38,151.00 L186.50,151.48 L186.63,151.97 L186.77,152.45 L186.91,152.93 L187.05,153.41 L187.20,153.88 L187.36,154.36 L187.51,154.83 L187.67,155.31 L187.83,155.78 L187.99,156.25 L188.16,156.73 L188.31,157.20 L188.47,157.67 L188.62,158.15 L188.78,158.63 L188.92,159.10 L189.07,159.58 L189.21,160.06 L189.34,160.54 L189.48,161.03 L189.61,161.51 L189.74,161.99 L189.87,162.47 L189.99,162.96 L190.12,163.44 L190.24,163.93 L190.37,164.41 L190.49,164.90 L190.62,165.38 L190.74,165.86 L190.86,166.35 L190.99,166.83 L191.11,167.32 L191.24,167.80 L191.36,168.29 L191.49,168.77 L191.61,169.25 L191.74,169.74 L191.87,170.22 L192.00,170.70 L192.14,171.18 L192.27,171.66 L192.41,172.14 L192.55,172.62 L192.70,173.10 L192.84,173.58 L193.00,174.06 L193.15,174.53 L193.31,175.00 L193.48,175.48 L193.65,175.95 L193.82,176.41 L194.00,176.88 L194.19,177.35 L194.37,177.81 L194.57,178.27 L194.77,178.72 L194.99,179.18 L195.21,179.62 L195.44,180.06 L195.69,180.50 L195.94,180.93 L196.21,181.34 L196.50,181.75 L196.79,182.15 L197.10,182.54 L197.42,182.93 L197.76,183.30 L198.10,183.66 L198.45,184.02 L198.81,184.36 L199.18,184.70 L199.56,185.02 L199.94,185.34 L200.33,185.65 L200.73,185.95 L201.14,186.24 L201.55,186.52 L201.97,186.79 L202.39,187.06 L202.82,187.31 L203.26,187.56 L203.69,187.80 L204.14,188.03 L204.59,188.25 L205.04,188.46 L205.49,188.67 L205.94,188.88 L206.40,189.08 L206.86,189.26 L207.33,189.44 L207.80,189.59 L208.28,189.73 L208.76,189.85 L209.25,189.94 L209.74,190.02 L210.24,190.09 L210.73,190.14 L211.23,190.19 L211.73,190.23 L212.23,190.26 L212.73,190.30 L213.22,190.33 L213.72,190.35 L214.22,190.38 L214.72,190.40 L215.22,190.43 L215.72,190.45 L216.22,190.46 L216.72,190.48 L217.22,190.50 L217.72,190.51 L218.22,190.53 L218.72,190.54 L219.22,190.55 L219.72,190.56 L220.22,190.57 L220.72,190.58 L221.22,190.59 L221.72,190.60 L222.22,190.61 L222.72,190.61 L223.22,190.62 L223.72,190.63 L224.22,190.64 L224.72,190.64 L225.22,190.65 L225.72,190.65 L226.22,190.66 L226.72,190.67 L227.22,190.67 L227.72,190.68 L228.22,190.68 L228.72,190.68 L229.22,190.69 L229.72,190.69 L230.22,190.70 L230.72,190.70 L231.22,190.70 L231.72,190.71 L232.22,190.71 L232.72,190.71 L233.22,190.72 L233.72,190.72 L234.22,190.72 L234.72,190.73 L235.22,190.73 L235.72,190.73 L236.22,190.73 L236.72,190.74 L237.22,190.74 L237.72,190.74 L238.22,190.74 L238.72,190.75 L239.22,190.75 L239.72,190.75 L240.22,190.75 L240.72,190.75 L241.22,190.76 L241.72,190.76 L242.22,190.76 L242.72,190.76 L243.22,190.77 L243.72,190.77 L244.22,190.77 L244.72,190.77 L245.22,190.77 L245.71,190.78 L246.21,190.78 L246.69,190.78 L247.14,190.79 L247.56,190.79 L247.92,190.79 L248.21,190.79" stroke="#1d63d8"/>
<path d="M39.01,188.59 L39.30,188.59 L39.66,188.58 L40.08,188.58 L40.53,188.57 L41.01,188.57 L41.50,188.56 L42.00,188.55 L42.50,188.55 L43.00,188.54 L43.50,188.54 L44.00,188.53 L44.50,188.52 L45.00,188.52 L45.50,188.51 L46.00,188.51 L46.50,188.50 L47.00,188.49 L47.50,188.49 L48.00,188.48 L48.50,188.48 L49.00,188.47 L49.50,188.46 L50.00,188.46 L50.50,188.45 L51.00,188.44 L51.50,188.44 L52.00,188.43 L52.50,188.43 L53.00,188.42 L53.50,188.41 L54.00,188.41 L54.50,188.40 L55.00,188.39 L55.50,188.38 L56.00,188.38 L56.50,188.37 L57.00,188.36 L57.50,188.36 L58.00,188.35 L58.50,188.34 L59.00,188.33 L59.50,188.32 L60.00,188.32 L60.50,188.31 L61.00,188.30 L61.50,188.29 L62.00,188.28 L62.50,188.27 L63.00,188.26 L63.50,188.25 L64.00,188.24 L64.50,188.23 L65.00,188.22 L65.50,188.21 L66.00,188.20 L66.50,188.19 L67.00,188.18 L67.50,188.17 L68.00,188.15 L68.50,188.14 L69.00,188.13 L69.50,188.11 L70.00,188.10 L70.50,188.08 L71.00,188.07 L71.49,188.05 L71.99,188.03 L72.49,188.01 L72.99,187.99 L73.49,187.97 L73.99,187.95 L74.49,187.93 L74.99,187.91 L75.49,187.88 L75.99,187.86 L76.49,187.84 L76.99,187.81 L77.49,187.79 L77.99,187.76 L78.49,187.73 L78.99,187.71 L79.49,187.68 L79.99,187.65 L80.48,187.62 L80.98,187.59 L81.48,187.56 L81.98,187.53 L82.48,187.50 L82.98,187.46 L83.48,187.43 L83.98,187.40 L84.48,187.37 L84.98,187.33 L85.47,187.30 L85.97,187.27 L86.47,187.23 L86.97,187.20 L87.47,187.17 L87.97,187.13 L88.47,187.10 L88.97,187.07 L89.47,187.04 L89.96,187.01 L90.46,186.98 L90.96,186.95 L91.46,186.93 L91.96,186.91 L92.46,186.88 L92.96,186.87 L93.46,186.85 L93.96,186.83 L94.46,186.82 L94.96,186.80 L95.46,186.79 L95.96,186.77 L96.46,186.76 L96.96,186.74 L97.46,186.72 L97.96,186.70 L98.46,186.68 L98.96,186.65 L99.46,186.62 L99.95,186.59 L100.45,186.55 L100.95,186.50 L101.45,186.45 L101.94,186.40 L102.44,186.33 L102.93,186.26 L103.43,186.18 L103.92,186.09 L104.41,186.00 L104.90,185.89 L105.38,185.78 L105.87,185.66 L106.35,185.54 L106.83,185.40 L107.31,185.26 L107.79,185.12 L108.27,184.97 L108.74,184.81 L109.22,184.65 L109.69,184.48 L110.16,184.31 L110.62,184.13 L111.09,183.95 L111.55,183.76 L112.01,183.57 L112.47,183.37 L112.93,183.17 L113.39,182.97 L113.84,182.76 L114.30,182.55 L114.75,182.33 L115.20,182.11 L115.64,181.89 L116.09,181.66 L116.53,181.43 L116.97,181.20 L117.41,180.96 L117.85,180.72 L118.28,180.47 L118.71,180.21 L119.13,179.94 L119.55,179.67 L119.97,179.39 L120.38,179.11 L120.78,178.81 L121.18,178.51 L121.57,178.21 L121.96,177.89 L122.35,177.58 L122.73,177.25 L123.11,176.93 L123.49,176.60 L123.86,176.27 L124.24,175.94 L124.61,175.61 L124.98,175.27 L125.36,174.94 L125.73,174.61 L126.11,174.29 L126.49,173.96 L126.87,173.63 L127.25,173.31 L127.63,172.99 L128.01,172.66 L128.39,172.34 L128.78,172.02 L129.16,171.69 L129.54,171.37 L129.91,171.04 L130.29,170.71 L130.67,170.38 L131.05,170.06 L131.42,169.73 L131.80,169.40 L132.18,169.07 L132.55,168.74 L132.93,168.41 L133.31,168.08 L133.68,167.75 L134.06,167.42 L134.44,167.10 L134.81,166.77 L135.19,166.44 L135.57,166.12 L135.96,165.80 L136.34,165.47 L136.72,165.15 L137.10,164.83 L137.48,164.51 L137.86,164.18 L138.24,163.85 L138.61,163.52 L138.97,163.17 L139.33,162.83 L139.68,162.47 L140.03,162.11 L140.37,161.74 L140.70,161.37 L141.02,160.99 L141.34,160.60 L141.65,160.21 L141.96,159.82 L142.27,159.42 L142.57,159.03 L142.88,158.64 L143.19,158.24 L143.50,157.85 L143.82,157.47 L144.14,157.09 L144.48,156.72 L144.82,156.35 L145.17,156.00 L145.54,155.66 L145.91,155.34 L146.30,155.03 L146.70,154.74 L147.11,154.46 L147.54,154.19 L147.97,153.94 L148.40,153.69 L148.84,153.46 L149.28,153.23 L149.73,153.00 L150.17,152.77 L150.62,152.54 L151.06,152.32 L151.51,152.09 L151.96,151.87 L152.40,151.64 L152.85,151.42 L153.30,151.20 L153.75,150.98 L154.20,150.76 L154.64,150.53 L155.09,150.30 L155.53,150.07 L155.97,149.83 L156.40,149.58 L156.84,149.33 L157.27,149.08 L157.70,148.83 L158.13,148.57 L158.56,148.31 L158.98,148.05 L159.41,147.79 L159.84,147.53 L160.26,147.26 L160.68,147.00 L161.10,146.73 L161.52,146.45 L161.94,146.18 L162.35,145.90 L162.77,145.62 L163.18,145.33 L163.59,145.04 L163.99,144.75 L164.39,144.45 L164.78,144.14 L165.17,143.83 L165.56,143.52 L165.94,143.20 L166.32,142.87 L166.70,142.54 L167.08,142.21 L167.45,141.88 L167.83,141.55 L168.20,141.22 L168.58,140.89 L168.95,140.56 L169.34,140.24 L169.72,139.92 L170.11,139.62 L170.51,139.33 L170.92,139.05 L171.34,138.81 L171.77,138.61 L172.22,138.46 L172.67,138.38 L173.13,138.37 L173.59,138.42 L174.05,138.54 L174.50,138.70 L174.94,138.91 L175.37,139.15 L175.77,139.43 L176.16,139.73 L176.52,140.06 L176.85,140.42 L177.17,140.80 L177.46,141.20 L177.73,141.62 L177.98,142.05 L178.21,142.49 L178.43,142.93 L178.63,143.39 L178.83,143.85 L179.02,144.31 L179.20,144.78 L179.37,145.24 L179.55,145.71 L179.71,146.18 L179.88,146.66 L180.05,147.13 L180.21,147.60 L180.37,148.07 L180.54,148.54 L180.70,149.02 L180.87,149.49 L181.04,149.96 L181.21,150.43 L181.39,150.90 L181.56,151.36 L181.75,151.83 L181.93,152.29 L182.13,152.75 L182.32,153.21 L182.52,153.67 L182.71,154.13 L182.91,154.59 L183.11,155.05 L183.31,155.51 L183.50,155.97 L183.69,156.43 L183.88,156.90 L184.06,157.36 L184.23,157.83 L184.41,158.30 L184.57,158.77 L184.73,159.24 L184.89,159.72 L185.04,160.20 L185.19,160.67 L185.33,161.15 L185.47,161.63 L185.61,162.11 L185.75,162.59 L185.88,163.08 L186.01,163.56 L186.13,164.04 L186.26,164.53 L186.39,165.01 L186.51,165.49 L186.64,165.98 L186.76,166.46 L186.88,166.95 L187.01,167.43 L187.13,167.92 L187.25,168.40 L187.38,168.88 L187.50,169.37 L187.63,169.85 L187.76,170.34 L187.89,170.82 L188.02,171.30 L188.15,171.78 L188.29,172.27 L188.42,172.75 L188.56,173.23 L188.71,173.70 L188.85,174.18 L189.01,174.66 L189.16,175.13 L189.32,175.61 L189.49,176.08 L189.66,176.55 L189.83,177.02 L190.01,177.49 L190.19,177.95 L190.37,178.42 L190.56,178.88 L190.76,179.34 L190.96,179.80 L191.16,180.25 L191.37,180.71 L191.59,181.16 L191.81,181.61 L192.03,182.05 L192.27,182.49 L192.51,182.93 L192.75,183.37 L193.00,183.80 L193.26,184.23 L193.53,184.65 L193.80,185.06 L194.09,185.47 L194.39,185.87 L194.70,186.25 L195.03,186.62 L195.38,186.97 L195.75,187.31 L196.13,187.62 L196.53,187.92 L196.93,188.20 L197.35,188.48 L197.76,188.76 L198.17,189.04 L198.58,189.31 L199.00,189.56 L199.43,189.80 L199.87,190.00 L200.33,190.17 L200.80,190.31 L201.28,190.42 L201.77,190.51 L202.26,190.58 L202.75,190.64 L203.25,190.69 L203.75,190.74 L204.25,190.78 L204.75,190.81 L205.24,190.85 L205.74,190.88 L206.24,190.90 L206.74,190.93 L207.24,190.95 L207.74,190.97 L208.24,190.99 L208.74,191.00 L209.24,191.02 L209.74,191.03 L210.24,191.05 L210.74,191.06 L211.24,191.07 L211.74,191.08 L212.24,191.09 L212.74,191.10 L213.24,191.11 L213.74,191.12 L214.24,191.13 L214.74,191.13 L215.24,191.14 L215.74,191.15 L216.24,191.15 L216.74,191.16 L217.24,191.17 L217.74,191.17 L218.24,191.18 L218.74,191.18 L219.24,191.19 L219.74,191.19 L220.24,191.20 L220.74,191.20 L221.24,191.20 L221.74,191.21 L222.24,191.21 L222.74,191.21 L223.24,191.22 L223.74,191.22 L224.24,191.22 L224.74,191.23 L225.24,191.23 L225.74,191.23 L226.24,191.24 L226.74,191.24 L227.24,191.24 L227.74,191.24 L228.24,191.24 L228.74,191.25 L229.24,191.25 L229.74,191.25 L230.24,191.25 L230.74,191.25 L231.24,191.25 L231.74,191.26 L232.24,191.26 L232.74,191.26 L233.24,191.26 L233.74,191.26 L234.24,191.26 L234.74,191.26 L235.24,191.26 L235.74,191.26 L236.24,191.27 L236.74,191.27 L237.24,191.27 L237.74,191.27 L238.24,191.27 L238.74,191.27 L239.24,191.27 L239.74,191.27 L240.24,191.27 L240.74,191.27 L241.24,191.27 L241.74,191.27 L242.24,191.28 L242.74,191.28 L243.24,191.28 L243.74,191.28 L244.24,191.28 L244.74,191.28 L245.24,191.28 L245.73,191.28 L246.23,191.29 L246.71,191.29 L247.16,191.29 L247.58,191.29 L247.94,191.29 L248.23,191.29" stroke="#28a45a"/>
<path d="M39.01,191.31 L39.30,191.32 L39.66,191.32 L40.08,191.33 L40.53,191.34 L41.01,191.35 L41.50,191.36 L42.00,191.37 L42.50,191.38 L43.00,191.39 L43.50,191.40 L44.00,191.41 L44.50,191.43 L45.00,191.44 L45.50,191.45 L46.00,191.46 L46.50,191.47 L47.00,191.48 L47.50,191.49 L48.00,191.50 L48.50,191.51 L49.00,191.52 L49.50,191.53 L50.00,191.54 L50.50,191.55 L51.00,191.56 L51.50,191.57 L52.00,191.59 L52.50,191.60 L53.00,191.61 L53.50,191.62 L54.00,191.63 L54.50,191.64 L55.00,191.65 L55.50,191.66 L56.00,191.67 L56.50,191.68 L57.00,191.69 L57.50,191.70 L58.00,191.71 L58.50,191.72 L59.00,191.73 L59.50,191.74 L60.00,191.74 L60.50,191.75 L61.00,191.76 L61.50,191.77 L62.00,191.78 L62.49,191.79 L62.99,191.80 L63.49,191.81 L63.99,191.82 L64.49,191.82 L64.99,191.83 L65.49,191.84 L65.99,191.85 L66.49,191.85 L66.99,191.86 L67.49,191.87 L67.99,191.88 L68.49,191.88 L68.99,191.89 L69.49,191.89 L69.99,191.90 L70.49,191.90 L70.99,191.91 L71.49,191.91 L71.99,191.92 L72.49,191.92 L72.99,191.93 L73.49,191.93 L73.99,191.94 L74.49,191.94 L74.99,191.95 L75.49,191.95 L75.99,191.95 L76.49,191.96 L76.99,191.96 L77.49,191.96 L77.99,191.96 L78.49,191.97 L78.99,191.97 L79.49,191.97 L79.99,191.97 L80.49,191.97 L80.99,191.97 L81.49,191.96 L81.99,191.96 L82.49,191.96 L82.99,191.95 L83.49,191.95 L83.99,191.94 L84.49,191.94 L84.99,191.93 L85.49,191.92 L85.99,191.91 L86.49,191.90 L86.99,191.89 L87.49,191.88 L87.99,191.86 L88.49,191.85 L88.99,191.83 L89.49,191.81 L89.99,191.80 L90.49,191.78 L90.99,191.76 L91.49,191.74 L91.99,191.71 L92.49,191.69 L92.99,191.67 L93.49,191.64 L93.99,191.61 L94.49,191.59 L94.99,191.56 L95.48,191.53 L95.98,191.50 L96.48,191.47 L96.98,191.44 L97.48,191.40 L97.98,191.37 L98.48,191.33 L98.98,191.30 L99.48,191.26 L99.97,191.22 L100.47,191.19 L100.97,191.15 L101.47,191.11 L101.97,191.07 L102.47,191.03 L102.96,190.98 L103.46,190.94 L103.96,190.90 L104.46,190.85 L104.96,190.81 L105.46,190.76 L105.95,190.72 L106.45,190.67 L106.95,190.62 L107.45,190.57 L107.94,190.52 L108.44,190.47 L108.94,190.42 L109.43,190.36 L109.93,190.30 L110.43,190.24 L110.92,190.18 L111.42,190.12 L111.92,190.05 L112.41,189.99 L112.91,189.92 L113.40,189.84 L113.90,189.77 L114.39,189.70 L114.88,189.62 L115.38,189.55 L115.87,189.47 L116.37,189.39 L116.86,189.32 L117.35,189.24 L117.85,189.16 L118.34,189.09 L118.84,189.02 L119.33,188.94 L119.83,188.87 L120.32,188.80 L120.82,188.74 L121.31,188.67 L121.81,188.60 L122.31,188.54 L122.80,188.48 L123.30,188.42 L123.79,188.36 L124.29,188.30 L124.79,188.24 L125.28,188.18 L125.78,188.12 L126.28,188.06 L126.77,188.01 L127.27,187.95 L127.77,187.89 L128.26,187.84 L128.76,187.78 L129.26,187.72 L129.75,187.67 L130.25,187.61 L130.75,187.55 L131.24,187.50 L131.74,187.44 L132.24,187.38 L132.73,187.33 L133.23,187.27 L133.73,187.21 L134.22,187.15 L134.72,187.09 L135.22,187.03 L135.71,186.97 L136.21,186.91 L136.71,186.85 L137.20,186.78 L137.70,186.72 L138.19,186.65 L138.69,186.58 L139.18,186.51 L139.68,186.44 L140.17,186.36 L140.67,186.28 L141.16,186.20 L141.65,186.12 L142.14,186.03 L142.63,185.94 L143.13,185.84 L143.62,185.74 L144.10,185.64 L144.59,185.53 L145.08,185.43 L145.57,185.32 L146.06,185.21 L146.55,185.10 L147.03,184.99 L147.52,184.89 L148.01,184.79 L148.50,184.69 L148.99,184.59 L149.48,184.50 L149.98,184.41 L150.47,184.32 L150.96,184.24 L151.46,184.16 L151.95,184.09 L152.44,184.02 L152.94,183.95 L153.43,183.88 L153.93,183.81 L154.43,183.75 L154.92,183.68 L155.42,183.62 L155.91,183.56 L156.41,183.50 L156.91,183.44 L157.40,183.38 L157.90,183.32 L158.40,183.26 L158.89,183.21 L159.39,183.15 L159.89,183.09 L160.38,183.04 L160.88,182.98 L161.38,182.93 L161.87,182.87 L162.37,182.82 L162.87,182.76 L163.37,182.71 L163.86,182.66 L164.36,182.60 L164.86,182.55 L165.35,182.50 L165.85,182.44 L166.35,182.39 L166.85,182.34 L167.34,182.28 L167.84,182.23 L168.34,182.18 L168.83,182.12 L169.33,182.07 L169.83,182.02 L170.33,181.96 L170.82,181.91 L171.32,181.85 L171.82,181.80 L172.31,181.74 L172.81,181.69 L173.31,181.64 L173.81,181.60 L174.30,181.57 L174.80,181.55 L175.30,181.53 L175.80,181.53 L176.30,181.54 L176.80,181.57 L177.29,181.61 L177.78,181.68 L178.27,181.76 L178.76,181.87 L179.24,182.00 L179.71,182.15 L180.18,182.32 L180.64,182.50 L181.10,182.70 L181.56,182.90 L182.01,183.11 L182.46,183.32 L182.91,183.54 L183.36,183.77 L183.81,183.99 L184.25,184.22 L184.69,184.45 L185.14,184.68 L185.58,184.91 L186.03,185.14 L186.47,185.37 L186.92,185.60 L187.36,185.83 L187.80,186.06 L188.24,186.29 L188.69,186.53 L189.13,186.76 L189.57,187.00 L190.01,187.24 L190.44,187.48 L190.88,187.72 L191.32,187.96 L191.76,188.20 L192.20,188.43 L192.65,188.66 L193.09,188.89 L193.54,189.10 L194.00,189.31 L194.45,189.52 L194.91,189.72 L195.37,189.90 L195.84,190.09 L196.31,190.26 L196.78,190.43 L197.25,190.60 L197.72,190.75 L198.20,190.90 L198.68,191.03 L199.17,191.15 L199.65,191.26 L200.14,191.36 L200.63,191.45 L201.12,191.54 L201.62,191.61 L202.11,191.68 L202.61,191.74 L203.11,191.80 L203.60,191.85 L204.10,191.90 L204.60,191.95 L205.10,191.99 L205.59,192.03 L206.09,192.07 L206.59,192.10 L207.09,192.14 L207.59,192.17 L208.09,192.20 L208.59,192.22 L209.09,192.25 L209.59,192.27 L210.09,192.30 L210.59,192.32 L211.09,192.34 L211.58,192.36 L212.08,192.38 L212.58,192.40 L213.08,192.42 L213.58,192.43 L214.08,192.45 L214.58,192.46 L215.08,192.48 L215.58,192.49 L216.08,192.51 L216.58,192.52 L217.08,192.53 L217.58,192.54 L218.08,192.56 L218.58,192.57 L219.08,192.58 L219.58,192.59 L220.08,192.60 L220.58,192.61 L221.08,192.62 L221.58,192.63 L222.08,192.64 L222.58,192.64 L223.08,192.65 L223.58,192.66 L224.08,192.66 L224.58,192.67 L225.08,192.68 L225.58,192.68 L226.08,192.69 L226.58,192.69 L227.08,192.70 L227.58,192.70 L228.08,192.70 L228.58,192.71 L229.08,192.71 L229.58,192.72 L230.08,192.72 L230.58,192.72 L231.08,192.73 L231.58,192.73 L232.08,192.73 L232.58,192.73 L233.08,192.74 L233.58,192.74 L234.08,192.74 L234.58,192.75 L235.08,192.75 L235.58,192.75 L236.08,192.75 L236.58,192.75 L237.08,192.76 L237.58,192.76 L238.08,192.76 L238.58,192.76 L239.08,192.76 L239.58,192.77 L240.08,192.77 L240.58,192.77 L241.08,192.77 L241.58,192.77 L242.08,192.77 L242.58,192.78 L243.08,192.78 L243.58,192.78 L244.08,192.78 L244.58,192.78 L245.08,192.78 L245.58,192.79 L246.07,192.79 L246.55,192.79 L247.00,192.79 L247.42,192.79 L247.78,192.79 L248.07,192.80" stroke="#a86be0"/>
</g>
<rect x="37.4" y="24" width="213.9" height="173.3" fill="none" stroke="#000" stroke-width="3.9" stroke-linejoin="round"/>
<line x1="37.5" y1="195" x2="37.5" y2="200.8" stroke="#000" stroke-width="3"/>
<text x="37.5" y="209" font-size="8" text-anchor="middle" fill="#1a1a1a">400</text>
<line x1="90.8" y1="195" x2="90.8" y2="200.8" stroke="#000" stroke-width="3"/>
<text x="90.8" y="209" font-size="8" text-anchor="middle" fill="#1a1a1a">500</text>
<line x1="144.1" y1="195" x2="144.1" y2="200.8" stroke="#000" stroke-width="3"/>
<text x="144.1" y="209" font-size="8" text-anchor="middle" fill="#1a1a1a">600</text>
<line x1="197.4" y1="195" x2="197.4" y2="200.8" stroke="#000" stroke-width="3"/>
<text x="197.4" y="209" font-size="8" text-anchor="middle" fill="#1a1a1a">700</text>
<line x1="250.7" y1="195" x2="250.7" y2="200.8" stroke="#000" stroke-width="3"/>
<text x="250.7" y="209" font-size="8" text-anchor="middle" fill="#1a1a1a">800</text>
<text x="144.4" y="226" font-size="12.4" font-weight="bold" text-anchor="middle">Wavelength (nm)</text>
<text transform="translate(30.3,110.3) rotate(-90)" font-size="12.3" font-weight="bold" text-anchor="middle">Absorbance (a.u.)</text>
<text x="46" y="43.4" font-size="12" font-weight="bold">a)</text>
<rect x="61" y="32.3" width="75.1" height="78.9" fill="#fff" stroke="#000" stroke-width="2"/>
<line x1="63.5" y1="41.4" x2="90.5" y2="41.4" stroke="#4a4a4a" stroke-width="3.2" stroke-linecap="round"/>
<text x="94.2" y="45.8" font-size="12.4" font-weight="bold">0 min</text>
<line x1="63.5" y1="56.9" x2="90.5" y2="56.9" stroke="#ee3338" stroke-width="3.2" stroke-linecap="round"/>
<text x="94.2" y="61.3" font-size="12.4" font-weight="bold">5 min</text>
<line x1="63.5" y1="72.4" x2="90.5" y2="72.4" stroke="#1d63d8" stroke-width="3.2" stroke-linecap="round"/>
<text x="94.2" y="76.8" font-size="12.4" font-weight="bold">10 min</text>
<line x1="63.5" y1="87.9" x2="90.5" y2="87.9" stroke="#28a45a" stroke-width="3.2" stroke-linecap="round"/>
<text x="94.2" y="92.3" font-size="12.4" font-weight="bold">15 min</text>
<line x1="63.5" y1="103.4" x2="90.5" y2="103.4" stroke="#a86be0" stroke-width="3.2" stroke-linecap="round"/>
<text x="94.2" y="107.8" font-size="12.4" font-weight="bold">20 min</text>
<rect x="315.9" y="25.95" width="213.6" height="173.4" fill="none" stroke="#000" stroke-width="4.4"/>
<line x1="333.2" y1="198" x2="333.2" y2="202.5" stroke="#000" stroke-width="2.5"/>
<text x="333.2" y="211" font-size="8" text-anchor="middle" fill="#1a1a1a">0</text>
<line x1="376.8" y1="198" x2="376.8" y2="202.5" stroke="#000" stroke-width="2.5"/>
<text x="376.8" y="211" font-size="8" text-anchor="middle" fill="#1a1a1a">5</text>
<line x1="420.4" y1="198" x2="420.4" y2="202.5" stroke="#000" stroke-width="2.5"/>
<text x="420.4" y="211" font-size="8" text-anchor="middle" fill="#1a1a1a">10</text>
<line x1="464.1" y1="198" x2="464.1" y2="202.5" stroke="#000" stroke-width="2.5"/>
<text x="464.1" y="211" font-size="8" text-anchor="middle" fill="#1a1a1a">15</text>
<line x1="507.7" y1="198" x2="507.7" y2="202.5" stroke="#000" stroke-width="2.5"/>
<text x="507.7" y="211" font-size="8" text-anchor="middle" fill="#1a1a1a">20</text>
<line x1="312.3" y1="184.9" x2="317" y2="184.9" stroke="#000" stroke-width="2.5"/>
<text x="309.8" y="187.6" font-size="8" text-anchor="end" fill="#1a1a1a">0</text>
<line x1="312.3" y1="155.8" x2="317" y2="155.8" stroke="#000" stroke-width="2.5"/>
<text x="309.8" y="158.5" font-size="8" text-anchor="end" fill="#1a1a1a">20</text>
<line x1="312.3" y1="126.7" x2="317" y2="126.7" stroke="#000" stroke-width="2.5"/>
<text x="309.8" y="129.4" font-size="8" text-anchor="end" fill="#1a1a1a">40</text>
<line x1="312.3" y1="97.6" x2="317" y2="97.6" stroke="#000" stroke-width="2.5"/>
<text x="309.8" y="100.3" font-size="8" text-anchor="end" fill="#1a1a1a">60</text>
<line x1="312.3" y1="68.5" x2="317" y2="68.5" stroke="#000" stroke-width="2.5"/>
<text x="309.8" y="71.2" font-size="8" text-anchor="end" fill="#1a1a1a">80</text>
<line x1="312.3" y1="39.4" x2="317" y2="39.4" stroke="#000" stroke-width="2.5"/>
<text x="309.8" y="42.1" font-size="8" text-anchor="end" fill="#1a1a1a">100</text>
<polyline points="333.2,184.9 376.8,183.4 420.4,182.0 464.1,179.1 507.7,173.3" fill="none" stroke="#000" stroke-width="3.7" stroke-linejoin="round"/>
<polyline points="333.2,184.9 376.8,158.7 420.4,132.5 464.1,112.9 507.7,49.3" fill="none" stroke="#000" stroke-width="3.7" stroke-linejoin="round"/>
<rect x="331.0" y="182.7" width="4.4" height="4.4" fill="#00e5f0"/>
<rect x="374.6" y="181.2" width="4.4" height="4.4" fill="#00e5f0"/>
<rect x="418.2" y="179.8" width="4.4" height="4.4" fill="#00e5f0"/>
<rect x="461.9" y="176.9" width="4.4" height="4.4" fill="#00e5f0"/>
<rect x="505.5" y="171.1" width="4.4" height="4.4" fill="#00e5f0"/>
<circle cx="333.2" cy="184.9" r="2.3" fill="#0a0aff"/>
<circle cx="376.8" cy="158.7" r="2.3" fill="#0a0aff"/>
<circle cx="420.4" cy="132.5" r="2.3" fill="#0a0aff"/>
<circle cx="464.1" cy="112.9" r="2.3" fill="#0a0aff"/>
<circle cx="507.7" cy="49.3" r="2.3" fill="#0a0aff"/>
<text x="324" y="39.5" font-size="12" font-weight="bold">b)</text>
<rect x="325.1" y="50.5" width="138.9" height="35.3" fill="#fff" stroke="#000" stroke-width="2.2"/>
<line x1="327" y1="59" x2="355" y2="59" stroke="#000" stroke-width="3.2" stroke-linecap="round"/>
<rect x="338.5" y="56.8" width="4.4" height="4.4" fill="#00e5f0"/>
<text x="357.6" y="63.8" font-size="12.6" font-weight="bold">Without NPs (8%)</text>
<line x1="327" y1="74.5" x2="355" y2="74.5" stroke="#000" stroke-width="3.2" stroke-linecap="round"/>
<circle cx="340.4" cy="74.5" r="2.3" fill="#0a0aff"/>
<text x="357.6" y="79.3" font-size="12.6" font-weight="bold">ZrO<tspan font-size="8.5" dy="3.3" dx="0.6">2</tspan><tspan dy="-3.3" dx="0.6"> NPs (94%)</tspan></text>
<text x="423.3" y="228.3" font-size="12.3" font-weight="bold" text-anchor="middle">Time (min)</text>
<text transform="translate(291.9,112) rotate(-90)" font-size="12.3" font-weight="bold" text-anchor="middle">Degradation (%)</text>
<rect x="37.7" y="247.5" width="213.3" height="173.1" fill="none" stroke="#000" stroke-width="4.4" stroke-linejoin="round"/>
<line x1="42.0" y1="420" x2="42.0" y2="424" stroke="#000" stroke-width="2.5"/>
<text x="42.0" y="433" font-size="8" text-anchor="middle" fill="#1a1a1a">0</text>
<line x1="89.5" y1="420" x2="89.5" y2="424" stroke="#000" stroke-width="2.5"/>
<text x="89.5" y="433" font-size="8" text-anchor="middle" fill="#1a1a1a">5</text>
<line x1="137.0" y1="420" x2="137.0" y2="424" stroke="#000" stroke-width="2.5"/>
<text x="137.0" y="433" font-size="8" text-anchor="middle" fill="#1a1a1a">10</text>
<line x1="184.5" y1="420" x2="184.5" y2="424" stroke="#000" stroke-width="2.5"/>
<text x="184.5" y="433" font-size="8" text-anchor="middle" fill="#1a1a1a">15</text>
<line x1="232.0" y1="420" x2="232.0" y2="424" stroke="#000" stroke-width="2.5"/>
<text x="232.0" y="433" font-size="8" text-anchor="middle" fill="#1a1a1a">20</text>
<rect x="40.0" y="410.5" width="4" height="4" fill="#000"/>
<rect x="87.8" y="388.9" width="4" height="4" fill="#000"/>
<rect x="135.2" y="366.0" width="4" height="4" fill="#000"/>
<rect x="182.9" y="335.0" width="4" height="4" fill="#000"/>
<rect x="230.2" y="281.3" width="4" height="4" fill="#000"/>
<line x1="40.8" y1="413.4" x2="232.3" y2="309.4" stroke="#f00" stroke-width="3.6" stroke-linecap="round"/>
<text x="45" y="263" font-size="12" font-weight="bold">c)</text>
<rect x="63.3" y="276.2" width="112.2" height="15.5" fill="#fff" stroke="#000" stroke-width="2.4"/>
<rect x="74.6" y="282.2" width="4.2" height="4.2" fill="#000"/>
<text x="92.4" y="288.6" font-size="10.9" font-weight="bold">Y=0.06272 min<tspan font-size="7" dy="-4.5">-1</tspan></text>
<text x="144.8" y="449.6" font-size="12.3" font-weight="bold" text-anchor="middle">Time (min)</text>
<text transform="translate(25.9,333.5) rotate(-90)" font-size="11.9" font-weight="bold" text-anchor="middle">-ln(C<tspan font-size="8" dy="3">o</tspan><tspan dy="-3">/C)</tspan></text>
<defs><radialGradient id="eg" cx="0.5" cy="0.5" r="0.5"><stop offset="0" stop-color="#c8c8fa"/><stop offset="0.6" stop-color="#a8a8fa"/><stop offset="1" stop-color="#2a2af0"/></radialGradient></defs>
<ellipse cx="377.2" cy="334" rx="36.2" ry="48" fill="url(#eg)"/>
<line x1="352" y1="300.3" x2="402.6" y2="300.3" stroke="#1a1a55" stroke-width="2.1"/>
<line x1="352.2" y1="368.2" x2="402.2" y2="368.2" stroke="#1a1a55" stroke-width="2.1"/>
<line x1="377.8" y1="300.2" x2="377.8" y2="368.2" stroke="#3c3c5c" stroke-width="1.6"/>
<circle cx="378" cy="295.3" r="2.2" fill="#c8e030"/>
<text x="378" y="376.5" font-size="7" font-weight="bold" fill="#40d040" text-anchor="middle">h<tspan font-size="5" dy="-3">+</tspan></text>
<text transform="translate(351.3,332.1) rotate(-90) scale(0.907,1)" font-size="7.75" font-weight="bold" text-anchor="middle" fill="#111">Excitation</text>
<text transform="translate(408.1,333.6) rotate(-90) scale(0.923,1)" font-size="7.62" font-weight="bold" text-anchor="middle" fill="#111">Recombination</text>
<text x="380.2" y="331.3" font-size="7.7" fill="#111" stroke="#111" stroke-width="0.25">ZrO<tspan font-size="5.2" dy="2.3" dx="0.4">2</tspan></text>
<text x="382.6" y="339.8" font-size="7.7" fill="#111" stroke="#111" stroke-width="0.25">NP</text>
<text transform="translate(336.3,299.2) scale(1,1.12)" font-size="7.4" font-weight="bold" fill="#1a1a1a">CB</text>
<text transform="translate(336.7,376.7) scale(1,1.12)" font-size="7.4" font-weight="bold" fill="#1a1a1a">VB</text>
<text x="330.5" y="275.2" font-size="12" font-weight="bold">d)</text>
<g fill="#f8ec00"><circle cx="292.2" cy="281.2" r="4.5"/><polygon points="297.80,282.60 307.00,281.70 307.00,280.70 297.80,279.80"/><polygon points="295.17,286.15 302.31,292.02 303.02,291.31 297.15,284.17"/><polygon points="290.80,286.80 291.70,296.00 292.70,296.00 293.60,286.80"/><polygon points="287.25,284.17 281.38,291.31 282.09,292.02 289.23,286.15"/><polygon points="286.60,279.80 277.40,280.70 277.40,281.70 286.60,282.60"/><polygon points="289.23,276.25 282.09,270.38 281.38,271.09 287.25,278.23"/><polygon points="293.60,275.60 292.70,266.40 291.70,266.40 290.80,275.60"/><polygon points="297.15,278.23 303.02,271.09 302.31,270.38 295.17,276.25"/></g>
<line x1="297" y1="284.7" x2="334" y2="311.2" stroke="#f5ee00" stroke-width="2.7"/>
<polygon points="346.5,320 330.3,313.4 335.1,306.8" fill="#f5ee00"/>
<path d="M400.1,278.4 C397,281 394.5,284 393.4,287.5 C392.8,290 394,291.9 397,291.9 L401.6,291.9 L402,295.2 L407.8,290.2 L401.3,286.6 L401.6,289.2 L399.1,289.2 C397.5,288.8 396.8,287 397,285.6 C397.3,283 398.5,281 400.6,279.1 Z" fill="#000"/>
<text x="399" y="277" font-size="7.6" font-weight="bold" fill="#111">O<tspan font-size="5" dy="1.8">2</tspan></text>
<text x="409.8" y="292.3" font-size="7.6" font-weight="bold" fill="#111">O<tspan font-size="5" dy="2.2">2</tspan><tspan font-size="5" dy="-5.5">·-</tspan></text>
<path d="M398.9,386.9 C396,384.5 393.5,381.5 393.1,378.7 C392.8,376.3 394,374.8 396.3,374.8 L401.6,374.8 L402.5,372.6 L407.8,377.5 L400.4,380.4 L401.6,377.2 L397.7,377.5 C396.5,378 396,378.5 396,379.1 C396,381 397,383.5 398.2,385.4 Z" fill="#000"/>
<text x="410.8" y="381" font-size="8" font-weight="bold" fill="#222">OH<tspan font-size="5" dy="-3.5">·</tspan></text>
<text x="394" y="395" font-size="8" font-weight="bold" fill="#222">H<tspan font-size="5" dy="2">2</tspan><tspan dy="-2" font-size="8">O</tspan></text>
<ellipse cx="421.9" cy="333.2" rx="9.2" ry="10.9" fill="#cf3512"/>
<line x1="432.5" y1="332.7" x2="440" y2="332.7" stroke="#000" stroke-width="1.8"/>
<polygon points="444.3,332.7 439,329.4 439,336" fill="#000"/>
<text x="420.3" y="352.8" font-size="7" fill="#000">Dye compounds</text>
<text x="449.9" y="330.8" font-size="6.2" fill="#000">Degraded final products</text>
<text x="469.8" y="339.6" font-size="6" fill="#000">(CO<tspan font-size="4" dy="1.5">2</tspan><tspan dy="-1.5">+H</tspan><tspan font-size="4" dy="1.5">2</tspan><tspan dy="-1.5">O)</tspan></text></svg>
</body></html>
